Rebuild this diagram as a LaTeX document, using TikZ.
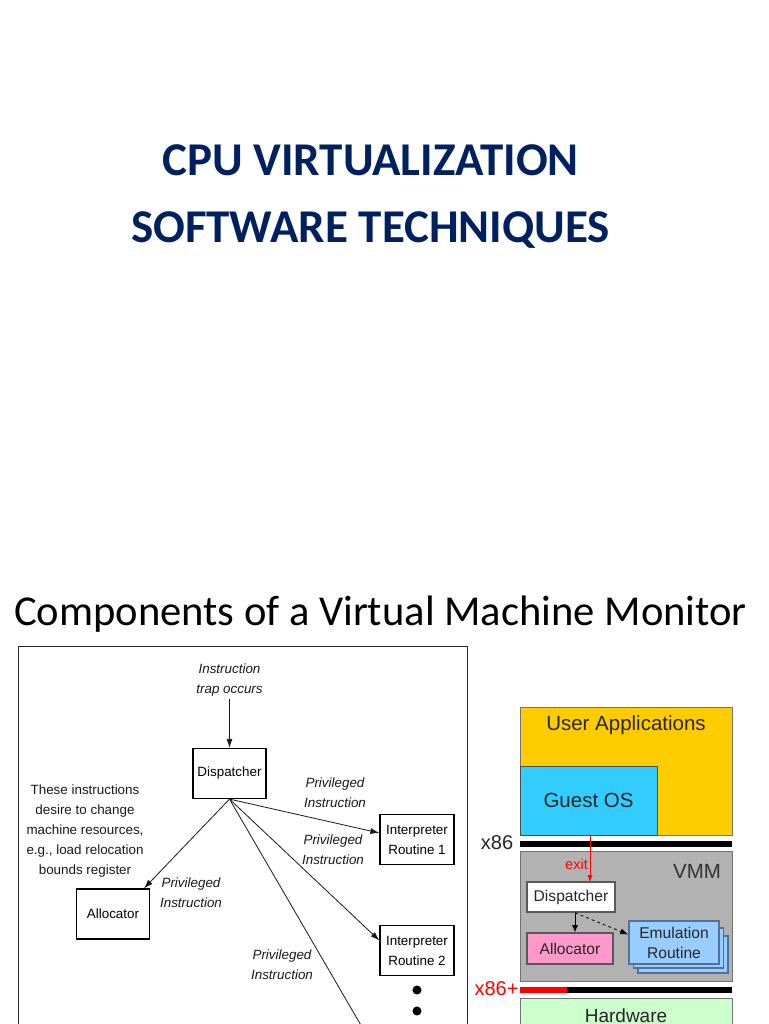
\documentclass[tikz,border=0pt]{standalone}
\usepackage{fontspec}
\setmainfont{Carlito}
\newfontfamily\armfont{Liberation Sans}
\usetikzlibrary{arrows.meta}
\tikzset{>={Latex[length=9pt,width=6pt]}}
\definecolor{usercol}{HTML}{FFCC00}
\definecolor{guestcol}{HTML}{33CCFF}
\definecolor{vmmcol}{HTML}{B2B2B2}
\definecolor{alloccol}{HTML}{FF99CC}
\definecolor{emucol}{HTML}{99CCFF}
\definecolor{emuline}{HTML}{4F7299}
\definecolor{hwcol}{HTML}{CCFFCC}
\definecolor{titlecol}{HTML}{002060}
\tikzstyle{title}=[titlecol,font=\fontsize{47}{47}\selectfont\bfseries,inner sep=0pt]
\tikzstyle{heading}=[black,font=\fontsize{42.6}{43}\selectfont,inner sep=0pt]
\tikzstyle{box}=[draw=black,line width=1.2pt,minimum width=73pt,minimum height=50pt,inner sep=0pt,align=center,
  font=\armfont\fontsize{13.4}{20}\selectfont]
\tikzstyle{note}=[align=center,inner sep=0pt,font=\armfont\fontsize{13.4}{20}\selectfont,text=black!90]
\tikzstyle{priv}=[note,font=\armfont\itshape\fontsize{13.4}{20}\selectfont]
\tikzstyle{arrow}=[->,line width=0.8pt,black!90]
\tikzstyle{layer}=[draw=black!55,line width=1pt,inner sep=0pt,align=center,
  font=\armfont\fontsize{20.5}{24}\selectfont,text=black!85]
\tikzstyle{inner}=[layer,line width=1.6pt,draw=black!65,font=\armfont\fontsize{15.6}{20}\selectfont]
\tikzstyle{emu}=[inner,fill=emucol,draw=emuline,minimum width=90pt,minimum height=43pt]
\tikzstyle{bar}=[minimum height=6pt,inner sep=0pt]
\begin{document}
\begin{tikzpicture}[x=1pt,y=-1pt]
  \clip (0,0) rectangle (768,1024);
  \fill[white] (0,0) rectangle (768,1024);

  % TITLES
  \node[title] (t1) at (370.5,160) {CPU VIRTUALIZATION};
  \node[title] (t2) at (370.5,230) {SOFTWARE TECHNIQUES};
  \node[heading] (t3) at (380.5,614) {Components of a Virtual Machine Monitor};

  % LEFT FIGURE
  \draw[line width=0.9pt,black!85] (18.5,1040) -- (18.5,646) -- (467,646) -- (467,1040);
  \node[priv] (trap) at (229.5,680) {Instruction\\trap occurs};
  \node[box] (disp) at (229.5,773.5) {Dispatcher};
  \node[box] (alloc) at (113,914) {Allocator};
  \node[box,minimum width=74pt] (int1) at (417,839.5) {Interpreter\\Routine 1};
  \node[box,minimum width=74pt] (int2) at (417,950.5) {Interpreter\\Routine 2};
  \node[note] (res) at (85,831) {These instructions\\desire to change\\machine resources,\\e.g., load relocation\\bounds register};
  \node[priv] (p1) at (335,793) {Privileged\\Instruction};
  \node[priv] (p2) at (333,850) {Privileged\\Instruction};
  \node[priv] (p3) at (191,893) {Privileged\\Instruction};
  \node[priv] (p4) at (282,965) {Privileged\\Instruction};
  \node[circle,fill=black,inner sep=3.2pt] (d1) at (417,990) {};
  \node[circle,fill=black,inner sep=3.2pt] (d2) at (417,1011) {};
  \coordinate (off) at (380,1058);
  \draw[arrow] (trap.south) ++(0,3) -- (disp.north);
  \draw[arrow] (disp.south) -- ([xshift=31pt]alloc.north);
  \draw[arrow] (disp.south) -- ([yshift=6.5pt]int1.west);
  \draw[arrow] (disp.south) -- ([yshift=10pt]int2.west);
  \draw[line width=0.8pt,black!90] (disp.south) -- (off);

  % RIGHT FIGURE
  \node[layer,fill=usercol,minimum width=212pt,minimum height=128pt] (user) at (626,771) {};
  \node[font=\armfont\fontsize{20.5}{24}\selectfont,text=black!85,inner sep=0pt] (ulab) at (626,725) {User Applications};
  \node[layer,fill=guestcol,draw=black!70,minimum width=137pt,minimum height=69pt] (guest) at (588.5,800.5) {Guest OS};
  \node[bar,fill=black,minimum width=212pt] (x86bar) at (626,844) {};
  \node[font=\armfont\fontsize{20}{24}\selectfont,text=black!85,inner sep=0pt] (x86) at (497,843) {x86};
  \node[layer,fill=vmmcol,minimum width=212pt,minimum height=130pt] (vmm) at (626,916) {};
  \node[font=\armfont\fontsize{20.5}{24}\selectfont,text=black!80,inner sep=0pt] (vlab) at (697,871) {VMM};
  \node[font=\armfont\fontsize{14.5}{20}\selectfont,text=red,inner sep=0pt] (exit) at (576.5,864) {exit};
  \node[inner,fill=white,minimum width=88pt,minimum height=30pt] (vdisp) at (571,897) {Dispatcher};
  \node[inner,fill=alloccol,minimum width=86pt,minimum height=31pt] (valloc) at (570,948.5) {Allocator};
  \node[emu,minimum height=37pt] (emu3) at (683,954.5) {};
  \node[emu,minimum height=40pt] (emu2) at (678.5,948) {};
  \node[emu] (emu1) at (674,942.5) {Emulation\\Routine};
  \coordinate (gexit) at (590,835);
  \coordinate (dexit) at (590,882);
  \draw[-{Latex[length=7pt,width=5pt]},red,line width=0.5pt] (gexit) -- (dexit);
  \draw[-{Latex[length=7pt,width=6pt]},line width=0.8pt] ([xshift=4pt]vdisp.south) -- ([xshift=5pt]valloc.north);
  \draw[-{Latex[length=8pt,width=6pt]},dashed,line width=0.8pt] ([xshift=4pt]vdisp.south) -- ([yshift=8pt]emu1.west);
  \node[bar,fill=black,minimum width=212pt] (plusbar) at (626,990) {};
  \node[bar,fill=red,minimum width=47pt] (redbar) at (543.5,990) {};
  \node[font=\armfont\fontsize{20}{24}\selectfont,text=red,inner sep=0pt] (x86p) at (496.5,989) {x86+};
  \node[layer,fill=hwcol,minimum width=212pt,minimum height=40pt] (hw) at (626,1018) {};
  \node[font=\armfont\fontsize{19}{24}\selectfont,text=black!85,inner sep=0pt] (hlab) at (626,1015.5) {Hardware};
\end{tikzpicture}
\end{document}
